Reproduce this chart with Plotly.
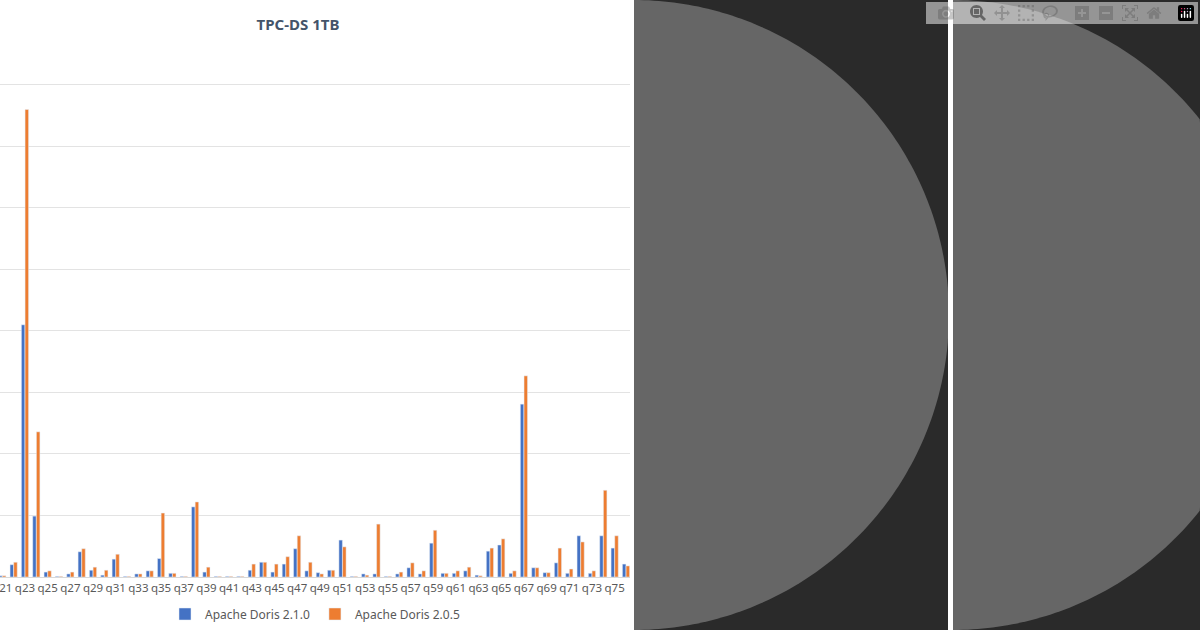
import numpy as np
import plotly.graph_objects as go

queries = [f"q{i}" for i in range(21, 77)]
doris_210 = [2, 20, 410, 99, 8, 1, 5, 41, 11, 3, 29, 1, 5, 10, 30, 6, 1, 114, 8, 1, 1, 1, 11, 24, 8, 21, 46, 10,
             7, 11, 60, 1, 5, 5, 1, 5, 15, 5, 55, 6, 6, 10, 3, 42, 52, 6, 281, 15, 7, 23, 6, 67, 6, 67, 47, 21]
doris_205 = [2, 24, 760, 236, 10, 1, 8, 46, 16, 11, 37, 1, 5, 10, 104, 6, 1, 122, 16, 1, 1, 1, 21, 24, 21, 33, 67, 24,
             5, 11, 49, 1, 3, 86, 1, 8, 23, 10, 76, 6, 10, 16, 2, 47, 62, 10, 327, 15, 7, 47, 13, 57, 10, 141, 67, 18]
tick_labels = [q for q in queries if int(q[1:]) % 2 == 1]

W, H = 1200, 630
fig = go.Figure()
fig.add_bar(x=queries, y=doris_210, name="Apache Doris 2.1.0", marker_color="#4472c4")
fig.add_bar(x=queries, y=doris_205, name="Apache Doris 2.0.5", marker_color="#ed7d31")

x_right = 630 / W
i21 = queries.index("q21")
step = 11.34
left_idx = i21 - 2.3 / step
right_idx = i21 + (630 - 2.3) / step

shapes = []
def px(x): return x / W
def py(y): return 1 - y / H
shapes.append(dict(type="rect", xref="paper", yref="paper", x0=px(634), x1=px(950), y0=0, y1=1,
                   fillcolor="#2a2a2a", line_width=0, layer="above"))
def half_disc(cx, r, xmax):
    t = np.linspace(-np.pi / 2, np.pi / 2, 200)
    xs = np.minimum(cx + r * np.cos(t), xmax)
    ys = 315 + r * np.sin(t)
    return "M " + " L ".join(f"{px(a):.5f},{py(b):.5f}" for a, b in zip(xs, ys)) + " Z"
shapes.append(dict(type="path", xref="paper", yref="paper", path=half_disc(634, 315, 948),
                   fillcolor="#666666", line_width=0, layer="above"))
shapes.append(dict(type="rect", xref="paper", yref="paper", x0=px(948), x1=px(953), y0=0, y1=1,
                   fillcolor="#ffffff", line_width=0, layer="above"))
shapes.append(dict(type="rect", xref="paper", yref="paper", x0=px(953), x1=1, y0=0, y1=1,
                   fillcolor="#2a2a2a", line_width=0, layer="above"))
shapes.append(dict(type="path", xref="paper", yref="paper", path=half_disc(953, 315, 1200),
                   fillcolor="#666666", line_width=0, layer="above"))

fig.update_layout(
    width=W, height=H, margin=dict(l=0, r=0, t=0, b=0, autoexpand=False),
    paper_bgcolor="white", plot_bgcolor="white",
    font=dict(family="Noto Sans", color="#595959", size=11),
    title=dict(text="<b>TPC-DS 1TB</b>", x=298 / W, xanchor="center", y=1 - 25 / H, yanchor="middle",
               font=dict(size=15, color="#44546a")),
    barmode="group", bargap=0.35, bargroupgap=0.05,
    xaxis=dict(domain=[0, x_right], range=[left_idx, right_idx], tickmode="array",
               tickvals=tick_labels, ticktext=tick_labels, tickangle=0, showgrid=False,
               showline=True, linecolor="#d9d9d9", ticks="", tickfont=dict(size=11.5, color="#595959")),
    yaxis=dict(domain=[(H - 577) / H, (H - 80) / H], range=[0, 808], dtick=100,
               showticklabels=False, gridcolor="#e3e3e3", zeroline=False),
    legend=dict(orientation="h", x=315 / W, xanchor="center", y=1 - 614 / H, yanchor="middle",
                font=dict(size=12, color="#595959"), itemwidth=30),
    shapes=shapes, showlegend=True,
)
fig.write_html("out.html", post_script="document.body.style.margin='0';document.body.style.overflow='hidden';")
